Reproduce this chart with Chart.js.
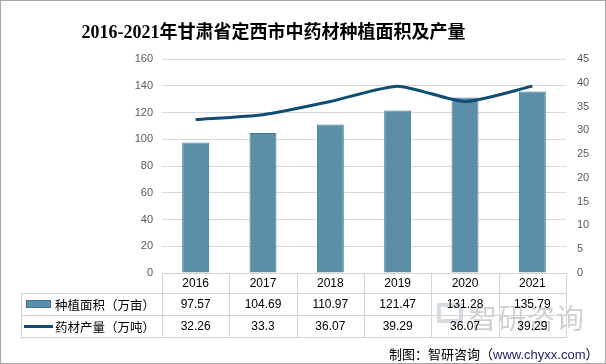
<!DOCTYPE html>
<html>
<head>
<meta charset="utf-8">
<script src="https://cdn.jsdelivr.net/npm/chart.js@4"></script>
<style>
  html,body{margin:0;padding:0;background:#fff;}
  #wrap{position:relative;width:606px;height:364px;box-sizing:border-box;border:1px solid #a6a6a6;overflow:hidden;font-family:"Liberation Sans","Noto Sans CJK SC",sans-serif;}
  #c{position:absolute;left:0;top:0;}
  #title{position:absolute;left:0;top:16px;width:545px;text-align:center;font:bold 18px "Liberation Serif","Noto Sans CJK SC",serif;color:#000;white-space:nowrap;}
  .cell{position:absolute;box-sizing:border-box;display:flex;align-items:center;justify-content:center;font-size:12px;color:#000;white-space:nowrap;}
  .hl{position:absolute;background:#d4d4d4;height:1px;}
  .vl{position:absolute;background:#d4d4d4;width:1px;}
  .leg{position:absolute;display:flex;align-items:center;font-size:12.5px;font-family:"Noto Sans CJK SC",sans-serif;white-space:nowrap;}
  #wm{position:absolute;left:468px;top:296px;font:28px "Noto Sans CJK SC",sans-serif;color:rgba(120,120,120,0.35);letter-spacing:1px;}
  #wmlogo{position:absolute;left:436px;top:302px;width:26px;height:20px;border:4px solid rgba(120,135,160,0.3);box-sizing:border-box;}
  #src{position:absolute;left:388px;top:343px;font-size:13px;font-family:"Noto Sans CJK SC",sans-serif;color:#000;white-space:nowrap;}
  #src span{color:#1c1f6e;font-family:"Liberation Sans",sans-serif;}
</style>
</head>
<body>
<div id="wrap">
  <canvas id="c" width="606" height="364"></canvas>
  <div id="title">2016-2021年甘肃省定西市中药材种植面积及产量</div>
  <div id="wmlogo"></div>
  <div id="wm">智研咨询</div>
  <div id="table"></div>
  <div id="src">制图：智研咨询（<span>www.chyxx.com</span>）</div>
</div>
<script>
// 年份・種植面積（万亩）・産量（万吨）
const years=['2016','2017','2018','2019','2020','2021'];
const area=[97.57,104.69,110.97,121.47,131.28,135.79];
const output=[32.26,33.3,36.07,39.29,36.07,39.29];
const areaLabel='种植面积（万亩）';
const outputLabel='药材产量（万吨）';

const barColor='#5b8fa8', barBorder='#3d7694', lineColor='#0f4d74';

// ── 下の表（HTML）をスケールに合わせて並べる ──
function buildTable(chart){
  const t=document.getElementById('table');
  t.innerHTML='';
  const ca=chart.chartArea, xs=chart.scales.x;
  const top=ca.bottom, rows=[top,top+20,top+42,top+64];
  const legLeft=20;
  const edges=[ca.left];
  years.forEach((y,i)=>{
    const c=xs.getPixelForValue(i);
    edges.push(i<years.length-1?(c+xs.getPixelForValue(i+1))/2:ca.right);
  });
  const add=(cls,st,html)=>{const d=document.createElement('div');d.className=cls;Object.assign(d.style,st);if(html!=null)d.innerHTML=html;t.appendChild(d);return d;};
  // 横線
  add('hl',{left:ca.left+'px',top:rows[0]+'px',width:(ca.right-ca.left+1)+'px'});
  for(let r=1;r<4;r++) add('hl',{left:legLeft+'px',top:rows[r]+'px',width:(ca.right-legLeft+1)+'px'});
  // 縦線
  add('vl',{left:legLeft+'px',top:rows[1]+'px',height:(rows[3]-rows[1])+'px'});
  edges.forEach(x=>add('vl',{left:Math.round(x)+'px',top:rows[0]+'px',height:(rows[3]-rows[0])+'px'}));
  // セル
  const rowsData=[years,area,output];
  rowsData.forEach((arr,r)=>{
    arr.forEach((v,i)=>{
      add('cell',{left:edges[i]+'px',top:rows[r]+'px',width:(edges[i+1]-edges[i])+'px',height:(rows[r+1]-rows[r])+'px'},String(v));
    });
  });
  // 凡例
  add('leg',{left:'25px',top:rows[1]+'px',height:'22px'},
    `<span style="display:inline-block;width:25px;height:8px;background:${barColor};border:1px solid ${barBorder};box-sizing:border-box;margin-right:4px"></span>${areaLabel}`);
  add('leg',{left:'23px',top:rows[2]+'px',height:'22px'},
    `<span style="display:inline-block;width:29px;height:3px;background:${lineColor};margin-right:2px"></span>${outputLabel}`);
}

const tablePlugin={id:'tablePlugin',afterRender(chart){ if(!chart.$tableDone){chart.$tableDone=true;buildTable(chart);} }};

const tickFont={family:'"Liberation Sans", sans-serif',size:11};

new Chart(document.getElementById('c'),{
  data:{
    labels:years,
    datasets:[
      {type:'line',label:outputLabel,data:output,yAxisID:'y1',borderColor:lineColor,borderWidth:3,pointRadius:0,tension:0.2,fill:false},
      {type:'bar',label:areaLabel,data:area,yAxisID:'y',backgroundColor:barColor,borderColor:barBorder,borderWidth:1,barPercentage:0.4,categoryPercentage:1}
    ]
  },
  plugins:[tablePlugin],
  options:{
    responsive:false,
    animation:false,
    layout:{padding:{top:58,bottom:92,left:0,right:0}},
    plugins:{legend:{display:false},tooltip:{enabled:false}},
    scales:{
      x:{display:false,offset:true},
      y:{
        position:'left',min:0,max:160,
        ticks:{stepSize:20,padding:9,color:'#595959',font:tickFont},
        grid:{color:'#d9d9d9',drawTicks:false},
        border:{display:false},
        afterFit(s){s.width=161;}
      },
      y1:{
        position:'right',min:0,max:45,
        ticks:{stepSize:5,padding:11,color:'#595959',font:tickFont},
        grid:{display:false,drawTicks:false},
        border:{display:false},
        afterFit(s){s.width=41;}
      }
    }
  }
});
</script>
</body>
</html>
